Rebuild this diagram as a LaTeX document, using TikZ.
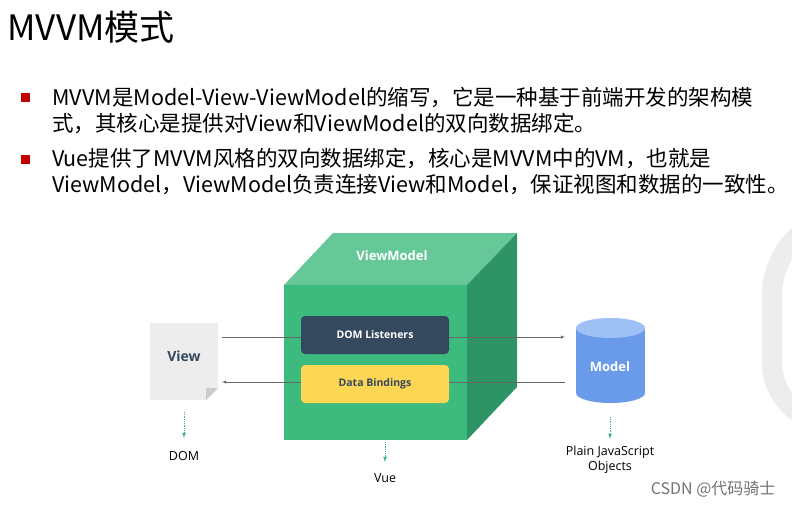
\documentclass[tikz,border=0pt]{standalone}
\usepackage{fontspec}
\setmainfont{Open Sans}
\newfontfamily\cjk{Noto Sans CJK SC}
\definecolor{vmfront}{HTML}{3DBA7E}
\definecolor{vmtop}{HTML}{66C899}
\definecolor{vmside}{HTML}{2E9466}
\definecolor{listen}{HTML}{35495E}
\definecolor{bind}{HTML}{FDD654}
\definecolor{modelblue}{HTML}{6A9BEA}
\definecolor{modeltop}{HTML}{9EC0F4}
\definecolor{bullet}{HTML}{C00000}

\begin{document}
\begin{tikzpicture}[x=1pt,y=-1pt]
    \tikzstyle{line}=[font=\cjk\fontsize{21.5}{21.5}\selectfont,anchor=west,inner sep=0pt]
    \tikzstyle{square}=[rectangle,fill=bullet,inner sep=0pt,minimum width=9pt,minimum height=9pt]
    \tikzstyle{box}=[rectangle,rounded corners=4pt,minimum width=148pt,minimum height=38pt,font=\bfseries\fontsize{10.5}{10.5}\selectfont]
    \tikzstyle{small}=[font=\fontsize{12.5}{15}\selectfont,align=center,inner sep=0pt]
    \tikzstyle{flow}=[draw=gray!80!black,-latex,thin]
    \tikzstyle{dots}=[draw=vmfront,densely dotted,thick,-{latex}]
    \useasboundingbox (0,0) rectangle (792,507);
    \fill[white] (0,0) rectangle (792,507);
    % right background shape
    \draw[line width=20pt,black!7,rounded corners=30pt] (802,232) -- (772,262) -- (772,395) -- (802,415);
    % title and bullets
    \node (title)[anchor=west,inner sep=0pt,font=\cjk\fontsize{35}{35}\selectfont] at (7,27) {MVVM模式};
    \node (m1)[square] at (25,97) {};
    \node (m2)[square] at (25,159) {};
    \node (t1)[line] at (52,98)  {MVVM是Model-View-ViewModel的缩写，它是一种基于前端开发的架构模};
    \node (t2)[line] at (52,124) {式，其核心是提供对View和ViewModel的双向数据绑定。};
    \node (t3)[line] at (52,159) {Vue提供了MVVM风格的双向数据绑定，核心是MVVM中的VM，也就是};
    \node (t4)[line] at (52,185) {ViewModel，ViewModel负责连接View和Model，保证视图和数据的一致性。};
    % cube
    \fill[vmtop]   (284,285) -- (333,233) -- (517,233) -- (467,285) -- cycle;
    \fill[vmside]  (467,285) -- (517,233) -- (517,387) -- (467,440) -- cycle;
    \fill[vmfront] (284,285) rectangle (467,440);
    % arrows
    \coordinate (vr1) at (222,337);
    \coordinate (mr1) at (565,337);
    \coordinate (vr2) at (222,382);
    \coordinate (mr2) at (565,382);
    \draw[flow] (vr1) -- (mr1);
    \draw[flow] (mr2) -- (vr2);
    \node (vm)[text=white,font=\bfseries\fontsize{13}{13}\selectfont] at (392,256) {ViewModel};
    \node (listeners)[box,fill=listen,text=white] at (375,335) {DOM Listeners};
    \node (bindings)[box,fill=bind,text=listen] at (375,384) {Data Bindings};
    % view document
    \fill[black!7] (150,323) -- (218,323) -- (218,388) -- (206,400) -- (150,400) -- cycle;
    \fill[black!20] (218,388) -- (206,388) -- (206,400) -- cycle;
    \node (view)[text=listen,font=\bfseries\fontsize{14}{14}\selectfont] at (184,356) {View};
    % model cylinder
    \fill[modelblue] (576,328) rectangle (645,393);
    \fill[modelblue] (610.5,393) ellipse (34.5pt and 10pt);
    \fill[modeltop]  (610.5,328) ellipse (34.5pt and 10pt);
    \node (model)[text=white,font=\bfseries\fontsize{13}{13}\selectfont] at (610,367) {Model};
    % dotted arrows and labels
    \node (dom)[small] at (184,456) {DOM};
    \node (vue)[small] at (385,478) {Vue};
    \node (pjo)[small] at (610,460) {Plain JavaScript\\Objects};
    \coordinate (vb) at (184,412);
    \coordinate (cb) at (385,442);
    \coordinate (mb) at (610,417);
    \draw[dots] (vb) -- ++(0,26);
    \draw[dots] (cb) -- ++(0,20);
    \draw[dots] (mb) -- ++(0,22);
    \node (csdn)[text=black!55,anchor=east,font=\cjk\fontsize{16}{16}\selectfont] at (779,489) {CSDN @代码骑士};
\end{tikzpicture}
\end{document}
